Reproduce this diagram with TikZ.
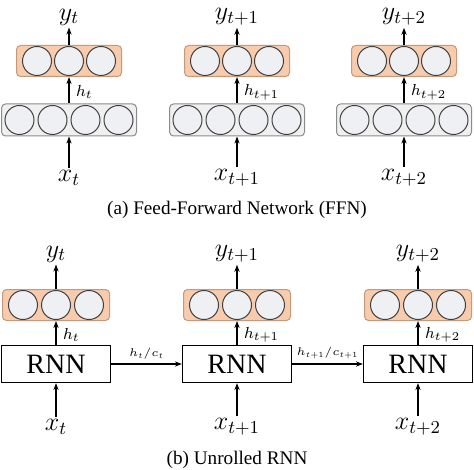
\RequirePackage{fix-cm}
\documentclass[tikz,border=0pt]{standalone}
\usepackage{fontspec}
\setmainfont{Liberation Serif}
\usetikzlibrary{arrows.meta,positioning}
\definecolor{hidfill}{HTML}{F8CBAD}
\definecolor{hidline}{HTML}{C49A7C}
\definecolor{cellfill}{HTML}{EEF0F3}
\def\px{0.5pt}
\tikzset{
  unit/.style={circle,draw=black!75,fill=cellfill,line width=0.5pt,
    minimum size={29*\px},inner sep=0pt},
  outbox/.style={draw=hidline,fill=hidfill,rounded corners=2pt,line width=0.5pt,
    minimum width={105*\px},minimum height={31*\px}},
  inbox/.style={draw=black!45,fill=black!6,rounded corners=2pt,line width=0.5pt,
    minimum width={135*\px},minimum height={32*\px}},
  rnnbox/.style={draw,line width=0.6pt,fill=white,
    minimum width={109*\px},minimum height={37*\px},font=\fontsize{14}{16}\selectfont},
  flow/.style={-{Stealth[length=3.5pt,width=2.6pt]},line width=1pt},
  var/.style={font=\fontsize{13}{15}\selectfont,inner sep=1pt},
  hid/.style={font=\fontsize{8}{9}\selectfont,inner sep=2pt,xshift=1pt,yshift=-1pt},
  state/.style={font=\fontsize{5.6}{6.5}\selectfont,inner sep=2pt},
  caption/.style={font=\fontsize{9.6}{11}\selectfont}
}
\begin{document}
\begin{tikzpicture}[x=\px,y=-\px]
  \useasboundingbox (0,0) rectangle (474,469);
  % (a) feed-forward network
  \foreach \i/\x/\s in {1/69/t,2/237/{t+1},3/404/{t+2}}{
    \node[inbox] (in\i) at (\x,120) {};
    \foreach \k in {-1.5,-0.5,0.5,1.5}
      \node[unit] at ([xshift={\k*33*\px}]in\i.center) {};
    \node[outbox] (out\i) at (\x,61) {};
    \foreach \k in {-1,0,1}
      \node[unit] at ([xshift={\k*32*\px}]out\i.center) {};
    \node[var] (x\i) at (\x,178) {$x_{\s}$};
    \node[var] (y\i) at (\x,17) {$y_{\s}$};
    \draw[flow] (x\i) -- (in\i);
    \draw[flow] (in\i) -- node[hid,right]{$h_{\s}$} (out\i);
    \draw[flow] (out\i) -- (y\i);
  }
  \node[caption] (capa) at (237,210) {(a) Feed-Forward Network (FFN)};
  % (b) unrolled rnn
  \foreach \i/\x/\s in {1/56/t,2/237/{t+1},3/418/{t+2}}{
    \node[rnnbox] (rnn\i) at (\x,364) {RNN};
    \node[outbox,minimum width={107*\px}] (ob\i) at (\x,305) {};
    \foreach \k in {-1,0,1}
      \node[unit] at ([xshift={\k*33*\px}]ob\i.center) {};
    \node[var] (bx\i) at (\x,427) {$x_{\s}$};
    \node[var] (by\i) at (\x,254) {$y_{\s}$};
    \draw[flow] (bx\i) -- (rnn\i);
    \draw[flow] (rnn\i) -- node[hid,right]{$h_{\s}$} (ob\i);
    \draw[flow] (ob\i) -- (by\i);
  }
  \draw[flow] (rnn1) -- node[state,above]{$h_t/c_t$} (rnn2);
  \draw[flow] (rnn2) -- node[state,above]{$h_{t+1}/c_{t+1}$} (rnn3);
  \node[caption] (capb) at (237,460) {(b) Unrolled RNN};
\end{tikzpicture}
\end{document}
